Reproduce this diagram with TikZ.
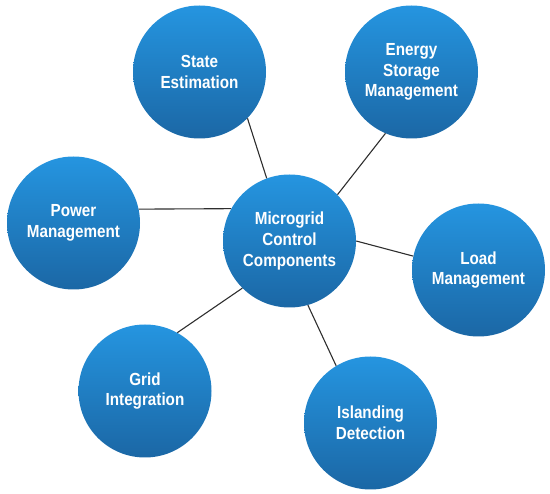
\documentclass[tikz,border=0pt]{standalone}
\usepackage{fontspec}
\setmainfont{Liberation Sans}
\newfontfamily\bubblefont[FakeStretch=0.87]{Liberation Sans}
\definecolor{topblue}{HTML}{2595E0}
\definecolor{botblue}{HTML}{1B67A5}
\definecolor{linegray}{HTML}{2E2E2E}
\begin{document}
\begin{tikzpicture}[x=1pt,y=-1pt,
  bubble/.style={circle, minimum size=133pt, inner sep=0pt,
    top color=topblue, bottom color=botblue, draw=none,
    text=white, font=\bubblefont\fontsize{17.5}{20.8}\selectfont\bfseries, align=center},
  link/.style={draw=linegray, line width=1.1pt}]
\useasboundingbox (0,0) rectangle (550,494);
\node[bubble] (c) at (289.5,241) {Microgrid\\Control\\Components};
\node[bubble] (se) at (199.5,72) {State\\Estimation};
\node[bubble] (es) at (411.5,72) {Energy\\Storage\\Management};
\node[bubble] (pm) at (73.5,223) {Power\\Management};
\node[bubble] (lm) at (478.5,270) {Load\\Management};
\node[bubble] (gi) at (145,391) {Grid\\Integration};
\node[bubble] (id) at (370.5,423) {Islanding\\Detection};
\draw[link] (se.-44.6) -- (c.110.4);
\draw[link] (es.247.2) -- (c.44.7);
\draw[link] (pm.12) -- (c.151.7);
\draw[link] (lm.168.5) -- (c.0);
\draw[link] (gi.61.9) -- (c.225);
\draw[link] (id.121) -- (c.286.8);
\end{tikzpicture}
\end{document}
